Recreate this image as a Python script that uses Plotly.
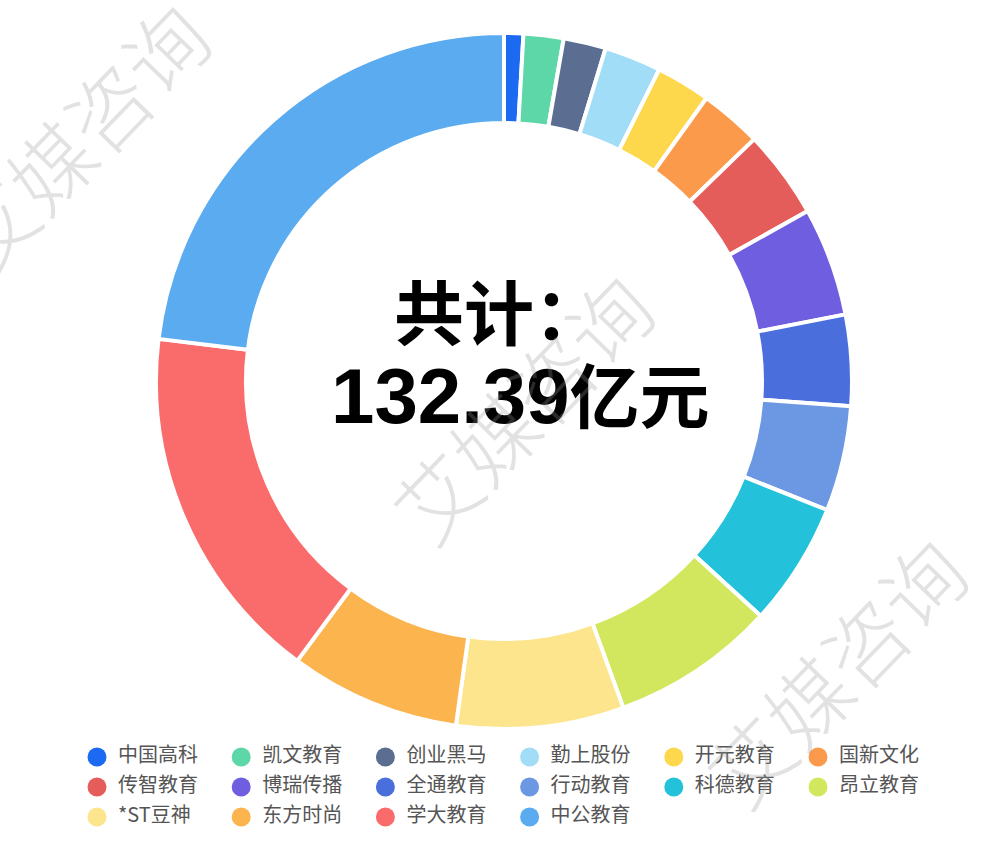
import plotly.graph_objects as go

# ---- data (亿元) ----
companies = ["中国高科", "凯文教育", "创业黑马", "勤上股份", "开元教育", "国新文化",
             "传智教育", "博瑞传播", "全通教育", "行动教育", "科德教育", "昂立教育",
             "*ST豆神", "东方时尚", "学大教育", "中公教育"]
revenue = [1.18, 2.46, 2.61, 3.49, 3.35, 3.82,
           5.44, 6.69, 5.59, 6.47, 7.61, 10.11,
           10.30, 10.48, 22.25, 30.54]
colors = ["#1D6AF2", "#5DD6A8", "#5B6E92", "#A2DDF7", "#FDD84C", "#FB9A4B",
          "#E55D5A", "#6F5EE0", "#4A6FDD", "#6C98E3", "#24C2DA", "#D3E75E",
          "#FCE58C", "#FBB44E", "#FA6C6C", "#5AABF0"]
total_title = "共计："
total_value = "132.39"
total_unit = "亿元"
watermark = "艾媒咨询"

W, H = 1008, 850

# pie geometry (pixels)
cx, cy, R = 504, 381, 348
hole = 258 / R

fig = go.Figure()
fig.add_trace(go.Pie(
    labels=companies, values=revenue, sort=False, direction="clockwise",
    rotation=0, hole=hole, textinfo="none", showlegend=False,
    marker=dict(colors=colors, line=dict(color="white", width=4)),
    domain=dict(x=[(cx - R) / W, (cx + R) / W], y=[1 - (cy + R) / H, 1 - (cy - R) / H]),
    hoverinfo="label+value",
))

# legend grid (custom, circle symbols)
ncol = 6
col0, colstep = 97, 144.2
row0, rowstep = 757, 30
lx = [col0 + colstep * (i % ncol) for i in range(len(companies))]
ly = [row0 + rowstep * (i // ncol) for i in range(len(companies))]
fig.add_trace(go.Scatter(
    x=lx, y=ly, mode="markers", showlegend=False, hoverinfo="skip",
    marker=dict(size=19, color=colors, line=dict(width=0)),
    xaxis="x", yaxis="y",
))
fig.add_trace(go.Scatter(
    x=[v + 21 for v in lx], y=ly, mode="text", text=companies, showlegend=False,
    hoverinfo="skip", textposition="middle right",
    textfont=dict(family="Noto Sans CJK SC", size=20, color="#555555"),
    xaxis="x", yaxis="y",
))

annotations = [
    dict(x=499 / W, y=1 - 309 / H, xref="paper", yref="paper", showarrow=False,
         xanchor="center", yanchor="middle",
         text="<b>" + total_title + "</b>",
         font=dict(family="Noto Sans CJK SC", size=70, color="#000000")),
    dict(x=520 / W, y=1 - 396 / H, xref="paper", yref="paper", showarrow=False,
         xanchor="center", yanchor="middle",
         text="<b>" + total_value + "<span style='font-size:70px'>" + total_unit + "</span></b>",
         font=dict(family="Liberation Sans, Noto Sans CJK SC", size=78, color="#000000")),
]
for (wx, wy) in [(77, 135), (521, 407), (834, 670)]:
    annotations.append(dict(
        x=wx / W, y=1 - wy / H, xref="paper", yref="paper", showarrow=False,
        xanchor="center", yanchor="middle",
        text=watermark, textangle=-46,
        font=dict(family="Noto Sans CJK SC", size=82, color="rgba(150,150,150,0.28)", weight=300),
    ))

fig.update_layout(
    width=W, height=H, margin=dict(l=0, r=0, t=0, b=0),
    paper_bgcolor="white", plot_bgcolor="rgba(0,0,0,0)",
    xaxis=dict(range=[0, W], domain=[0, 1], visible=False, fixedrange=True),
    yaxis=dict(range=[H, 0], domain=[0, 1], visible=False, fixedrange=True),
    annotations=annotations,
    showlegend=False,
)

fig.write_html("out.html", config={"displayModeBar": False},
               post_script="document.body.style.margin='0';document.body.style.overflow='hidden';")
